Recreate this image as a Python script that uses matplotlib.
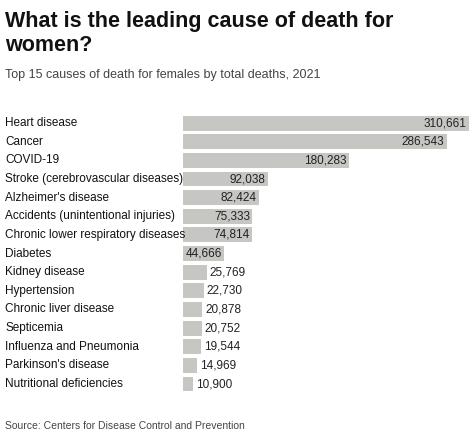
import matplotlib.pyplot as plt
from matplotlib.transforms import blended_transform_factory

causes = ["Heart disease", "Cancer", "COVID-19", "Stroke (cerebrovascular diseases)",
          "Alzheimer's disease", "Accidents (unintentional injuries)",
          "Chronic lower respiratory diseases", "Diabetes", "Kidney disease",
          "Hypertension", "Chronic liver disease", "Septicemia",
          "Influenza and Pneumonia", "Parkinson's disease", "Nutritional deficiencies"]
deaths = [310661, 286543, 180283, 92038, 82424, 75333, 74814, 44666, 25769,
          22730, 20878, 20752, 19544, 14969, 10900]

plt.rcParams['font.family'] = ['Liberation Sans', 'DejaVu Sans']
fig = plt.figure(figsize=(4.74, 4.47), dpi=100)
ax = fig.add_axes([0.386, 0.12, 0.603, 0.6255])

y = list(range(len(causes)))
ax.barh(y, deaths, height=0.8, color='#c6c6c2')
ax.set_ylim(len(causes) - 0.5, -0.5)
ax.set_xlim(0, max(deaths))
trans = blended_transform_factory(fig.transFigure, ax.transData)
for i, v in enumerate(deaths):
    if v > 40000:
        ax.text(v - max(deaths) * 0.008, i, f"{v:,}", ha='right', va='center',
                fontsize=8.5, color='#222222')
    else:
        ax.text(v + max(deaths) * 0.01, i, f"{v:,}", ha='left', va='center',
                fontsize=8.5, color='#222222')
    ax.text(0.011, i, causes[i], transform=trans, ha='left', va='center',
            fontsize=8.5, color='#111111')
ax.set_yticks([])
ax.set_xticks([])
for s in ax.spines.values():
    s.set_visible(False)

fig.text(0.011, 0.975, "What is the leading cause of death for\nwomen?", fontsize=15.5,
         fontweight='bold', va='top', color='#111111', linespacing=1.15)
fig.text(0.011, 0.845, "Top 15 causes of death for females by total deaths, 2021",
         fontsize=9, color='#444444', va='top')
fig.text(0.011, 0.035, "Source: Centers for Disease Control and Prevention",
         fontsize=7.5, color='#444444', va='bottom')
fig.savefig('out.png', dpi=100)
